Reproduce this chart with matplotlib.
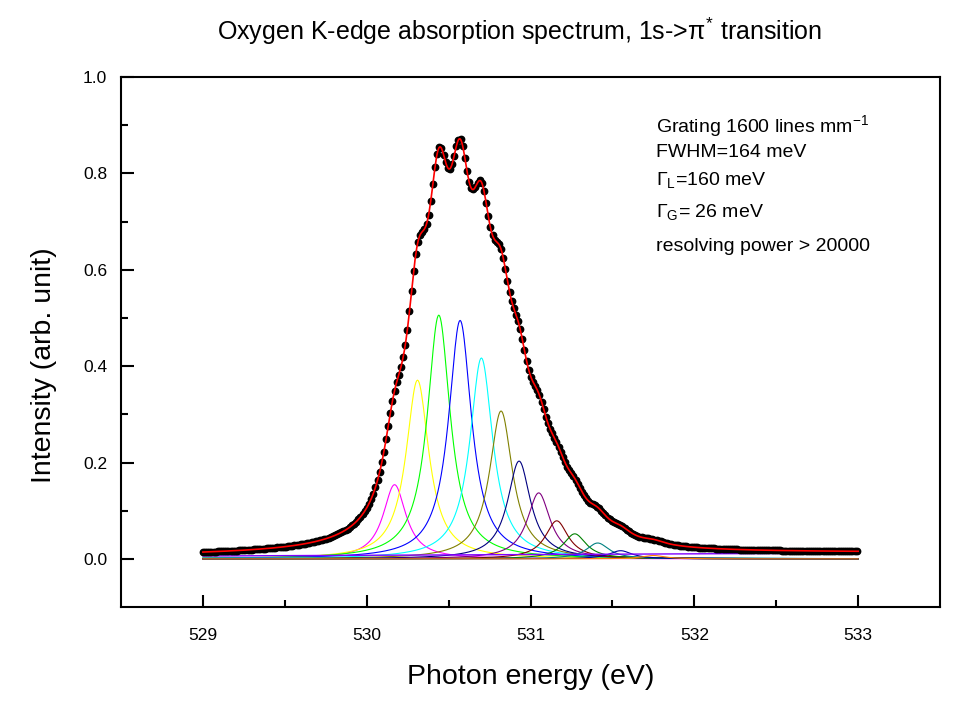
import numpy as np
import matplotlib
matplotlib.use("Agg")
import matplotlib.pyplot as plt

plt.rcParams['font.family'] = ['Liberation Sans', 'DejaVu Sans']
plt.rcParams['mathtext.fontset'] = 'custom'
plt.rcParams['mathtext.rm'] = 'Liberation Sans'
plt.rcParams['mathtext.it'] = 'Liberation Sans'

# fitted vibrational components of the O 1s -> pi* band (centre eV, height)
centres = [530.17, 530.31, 530.44, 530.57, 530.70, 530.82, 530.93, 531.05, 531.16, 531.27, 531.41, 531.55, 531.75]
heights = [0.154, 0.371, 0.506, 0.495, 0.417, 0.307, 0.203, 0.137, 0.079, 0.052, 0.033, 0.017, 0.007]
colours = ['#ff00ff', '#ffff00', '#00ff00', '#0000ff', '#00ffff', '#808000', '#000080',
           '#800080', '#800000', '#008000', '#008080', '#0000a0', '#ff8000']
fwhm = 0.17  # eV, Lorentzian width

# linear background (violet line), value at 529 eV and 533 eV
bg_ends = [529.0, 533.0]
bg_vals = [0.006, 0.012]

e_lo, e_hi = 529.0, 533.0
x = np.linspace(e_lo, e_hi, 801)
step_data = 0.013


def lorentz(e, c, h):
    g = fwhm / 2
    return h * g**2 / ((e - c)**2 + g**2)


def model(e):
    tot = np.interp(e, bg_ends, bg_vals)
    for c, h in zip(centres, heights):
        tot = tot + lorentz(e, c, h)
    return tot


fig = plt.figure(figsize=(9.58, 7.01), dpi=100)
ax = fig.add_axes([0.1263, 0.134, 0.855, 0.756])

for c, h, col in zip(centres, heights, colours):
    ax.plot(x, lorentz(x, c, h), color=col, lw=0.8)
ax.plot(bg_ends, bg_vals, color='#8000ff', lw=1.0)

ed = np.arange(e_lo, e_hi + 1e-6, step_data)
ax.plot(ed, model(ed), 'o', color='black', ms=4.6, mec='black')
ax.plot(x, model(x), color='red', lw=1.2)

ax.set_xlim(528.5, 533.5)
ax.set_ylim(-0.1, 1.0)
ax.set_xticks([529, 530, 531, 532, 533])
ax.set_xticks([529.5, 530.5, 531.5, 532.5], minor=True)
ax.set_yticks([0.0, 0.2, 0.4, 0.6, 0.8, 1.0])
ax.set_yticks([0.1, 0.3, 0.5, 0.7, 0.9], minor=True)
ax.yaxis.set_major_formatter(matplotlib.ticker.FormatStrFormatter('%.1f'))
ax.tick_params(which='both', direction='in', width=1.5, labelsize=12.5)
ax.tick_params(axis='x', pad=15)
ax.tick_params(axis='y', pad=10)
ax.tick_params(which='major', length=9)
ax.tick_params(which='minor', length=5)
for s in ax.spines.values():
    s.set_linewidth(1.5)

ax.set_xlabel('Photon energy (eV)', fontsize=20.5)
ax.set_ylabel('Intensity (arb. unit)', fontsize=20.5)
ax.xaxis.set_label_coords(0.5, -0.107)
ax.yaxis.set_label_coords(-0.078, 0.457)
fig.text(0.542, 0.955, r'Oxygen K-edge absorption spectrum, 1s->$\pi^{*}$ transition',
         ha='center', va='center', fontsize=18)

notes = [r'Grating 1600 lines mm$^{-1}$', 'FWHM=164 meV', r'$\Gamma_{\rm L}$=160 meV',
         r'$\Gamma_{\rm G}$= 26 meV', 'resolving power > 20000']
ys = [0.908, 0.857, 0.805, 0.745, 0.681]
for t, yy in zip(notes, ys):
    ax.text(0.653, yy, t, transform=ax.transAxes, fontsize=14, va='center')

fig.savefig('out.png', dpi=100)
